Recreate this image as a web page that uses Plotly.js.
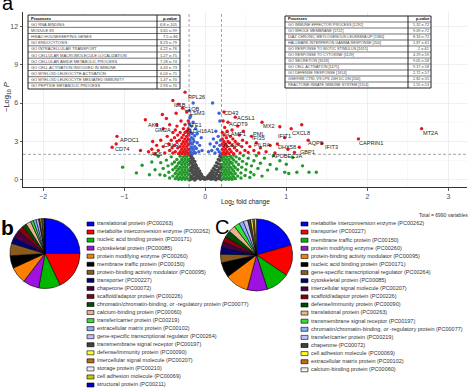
<!DOCTYPE html>
<html><head><meta charset="utf-8">
<script src="https://cdn.plot.ly/plotly-3.0.1.min.js"></script>
<style>html,body{margin:0;padding:0;background:#fff}#chart{width:474px;height:389px}</style>
</head><body><div id="chart"></div>
<script>
// ---------------- DATA ----------------
const grayPts = [
[-0.19,1.95],[-0.18,1.7],[-0.19,1.45],[-0.2,1.2],[-0.18,0.95],[-0.19,0.7],[-0.2,0.45],[-0.18,0.2],[-0.19,0.02],
[-0.17,1.85],[-0.16,1.55],[-0.17,1.3],[-0.16,1.05],[-0.17,0.8],[-0.16,0.55],[-0.17,0.3],[-0.16,0.08],
[-0.15,1.65],[-0.14,1.4],[-0.15,1.15],[-0.14,0.9],[-0.15,0.65],[-0.14,0.4],[-0.15,0.15],
[-0.13,1.45],[-0.12,1.2],[-0.13,0.95],[-0.12,0.7],[-0.13,0.45],[-0.12,0.2],[-0.13,0.0],
[-0.11,1.1],[-0.1,0.85],[-0.11,0.6],[-0.1,0.35],[-0.11,0.1],
[-0.09,0.9],[-0.08,0.65],[-0.09,0.4],[-0.08,0.15],
[-0.07,0.7],[-0.06,0.5],[-0.07,0.25],[-0.06,0.05],
[-0.05,0.45],[-0.04,0.3],[-0.03,0.12],[-0.02,0.2],[-0.01,0.05],
[0.01,0.08],[0.02,0.22],[0.03,0.1],[0.04,0.35],[0.05,0.15],[0.06,0.5],[0.07,0.28],[0.07,0.05],
[0.08,0.7],[0.09,0.45],[0.08,0.18],[0.1,0.9],[0.1,0.6],[0.11,0.32],[0.1,0.08],
[0.12,1.1],[0.12,0.8],[0.13,0.55],[0.12,0.25],[0.13,0.02],
[0.14,1.35],[0.14,1.05],[0.15,0.75],[0.14,0.45],[0.15,0.15],
[0.16,1.6],[0.16,1.25],[0.17,0.95],[0.16,0.65],[0.17,0.35],[0.16,0.1],
[0.18,1.85],[0.18,1.5],[0.19,1.2],[0.18,0.85],[0.19,0.55],[0.18,0.25],[0.19,0.05],
[0.2,1.7],[0.2,1.0],[0.2,0.4],[0.19,1.95]
];
const greenPts = [
[-0.21,0.05],[-0.21,0.4],[-0.21,0.8],[-0.21,1.2],[-0.21,1.6],[-0.21,1.95],
[-0.23,0.2],[-0.23,0.6],[-0.23,1.0],[-0.23,1.4],[-0.23,1.8],
[-0.25,0.05],[-0.25,0.4],[-0.25,0.8],[-0.25,1.2],[-0.25,1.6],[-0.25,1.95],
[-0.27,0.2],[-0.27,0.6],[-0.27,1.0],[-0.27,1.4],[-0.27,1.8],
[-0.29,0.05],[-0.29,0.4],[-0.29,0.8],[-0.29,1.2],[-0.29,1.6],
[-0.31,0.2],[-0.31,0.6],[-0.31,1.0],[-0.31,1.4],[-0.31,1.85],
[-0.33,0.05],[-0.33,0.45],[-0.33,0.85],[-0.33,1.3],
[-0.35,0.25],[-0.35,0.7],[-0.35,1.1],[-0.35,1.6],
[-0.37,0.1],[-0.37,0.5],[-0.37,0.95],[-0.38,1.4],
[-0.4,0.3],[-0.4,0.8],[-0.41,1.25],[-0.42,1.8],
[-0.44,0.15],[-0.45,0.6],[-0.46,1.1],[-0.48,1.55],
[-0.5,0.35],[-0.52,0.9],[-0.55,1.35],[-0.56,0.4],[-0.58,1.85],[-0.62,0.8],[-0.66,1.4],[-0.69,0.4],[-0.78,1.15],[-1.02,1.0],[-0.85,0.55],
[0.21,0.05],[0.21,0.4],[0.21,0.8],[0.21,1.2],[0.21,1.6],[0.21,1.95],
[0.23,0.2],[0.23,0.6],[0.23,1.0],[0.23,1.4],[0.23,1.8],
[0.25,0.05],[0.25,0.4],[0.25,0.8],[0.25,1.2],[0.25,1.6],[0.25,1.95],
[0.27,0.2],[0.27,0.6],[0.27,1.0],[0.27,1.4],[0.27,1.8],
[0.29,0.05],[0.29,0.4],[0.29,0.8],[0.29,1.2],[0.29,1.6],
[0.31,0.2],[0.31,0.6],[0.31,1.0],[0.31,1.4],[0.31,1.85],
[0.33,0.05],[0.33,0.45],[0.33,0.85],[0.33,1.3],[0.33,1.7],
[0.35,0.25],[0.35,0.7],[0.35,1.1],[0.35,1.55],[0.35,1.95],
[0.37,0.1],[0.37,0.5],[0.37,0.95],[0.38,1.4],[0.38,1.8],
[0.4,0.3],[0.4,0.8],[0.41,1.2],[0.42,1.65],
[0.44,0.15],[0.44,0.55],[0.45,1.0],[0.46,1.45],[0.47,1.9],
[0.49,0.35],[0.5,0.8],[0.51,1.25],[0.53,1.7],
[0.55,0.2],[0.56,0.6],[0.57,1.1],[0.6,1.5],[0.6,0.4],[0.63,1.9],[0.65,0.9],[0.68,1.3],[0.7,0.3],
[0.73,1.7],[0.77,0.77],[0.8,1.2],[0.84,1.9],[0.88,0.85],[0.92,1.5],[0.98,0.6],[1.0,1.23],[1.03,0.5],[1.08,1.75],[1.13,0.6],[1.2,1.1],[1.28,0.6],[1.37,0.6]
];
const bluePts = [
[-0.2,2.1],[-0.19,2.4],[-0.2,2.75],[-0.19,3.1],[-0.2,3.5],[-0.19,3.9],[-0.2,4.4],[-0.19,4.85],[-0.2,5.4],
[-0.18,2.2],[-0.17,2.55],[-0.18,2.9],[-0.17,3.3],[-0.18,3.7],[-0.17,4.2],[-0.18,5.0],
[-0.16,2.05],[-0.15,2.4],[-0.16,2.8],[-0.15,3.2],[-0.16,3.6],[-0.15,4.5],[-0.15,6.0],
[-0.14,2.2],[-0.13,2.6],[-0.14,3.0],[-0.13,3.45],[-0.12,4.0],
[-0.12,2.1],[-0.11,2.45],[-0.1,2.9],[-0.1,3.6],
[-0.08,2.2],[-0.07,2.7],[-0.05,3.3],[-0.04,2.3],
[0.04,2.2],[0.06,2.8],[0.08,2.3],[0.09,6.0],[0.1,3.2],[0.11,2.6],[0.12,2.1],[0.13,3.8],[0.14,2.9],[0.15,2.4],[0.16,3.4],[0.17,2.2],[0.18,2.7],[0.19,3.1],[0.18,4.6],[0.19,2.05],[0.17,5.2]
];
const redPts = [
[-0.21,2.05],[-0.21,2.4],[-0.21,2.8],[-0.21,3.2],[-0.21,3.6],[-0.21,4.0],[-0.21,4.6],
[-0.23,2.2],[-0.23,2.6],[-0.23,3.0],[-0.23,3.4],[-0.23,3.8],[-0.23,5.3],
[-0.25,2.05],[-0.25,2.4],[-0.25,2.8],[-0.25,3.2],[-0.25,3.7],[-0.25,4.3],[-0.25,6.85],
[-0.27,2.2],[-0.27,2.6],[-0.27,3.0],[-0.27,3.5],[-0.27,4.0],[-0.28,5.6],
[-0.29,2.05],[-0.29,2.4],[-0.29,2.8],[-0.29,3.3],[-0.3,4.6],
[-0.31,2.2],[-0.31,2.6],[-0.32,3.1],[-0.31,3.7],[-0.33,5.9],
[-0.33,2.05],[-0.34,2.5],[-0.35,3.0],[-0.34,3.5],[-0.35,4.2],
[-0.37,2.2],[-0.38,2.7],[-0.38,3.3],[-0.37,3.9],[-0.36,5.2],
[-0.4,2.1],[-0.41,2.5],[-0.42,3.1],[-0.4,3.7],[-0.4,6.2],
[-0.44,2.3],[-0.45,2.8],[-0.47,3.4],[-0.44,4.3],[-0.48,4.8],
[-0.5,2.1],[-0.52,2.6],[-0.55,3.1],[-0.52,4.0],[-0.53,5.1],
[-0.58,2.3],[-0.6,2.7],[-0.6,4.3],[-0.62,2.05],[-0.66,2.4],[-0.65,3.0],[-0.7,2.2],[-0.74,4.7],[-0.8,2.3],[-1.09,3.4],[-1.15,2.55],[-1.1,2.8],
[0.21,2.05],[0.21,2.4],[0.21,2.8],[0.21,3.2],[0.21,3.7],[0.22,4.6],
[0.23,2.2],[0.23,2.6],[0.23,3.0],[0.23,3.5],[0.24,4.1],[0.23,5.3],
[0.25,2.05],[0.25,2.4],[0.25,2.8],[0.26,3.3],
[0.27,2.2],[0.27,2.6],[0.28,3.0],[0.27,3.8],[0.28,4.5],
[0.29,2.05],[0.3,2.4],[0.3,2.9],[0.31,3.4],
[0.32,2.2],[0.33,2.7],[0.34,3.2],[0.33,3.9],
[0.35,2.05],[0.36,2.5],[0.37,3.0],[0.37,4.9],
[0.39,2.3],[0.4,2.8],[0.42,3.5],[0.4,4.2],
[0.43,2.1],[0.45,2.6],[0.46,3.1],[0.47,3.8],
[0.49,2.3],[0.51,2.9],[0.53,2.15],[0.55,2.6],[0.57,3.4],[0.6,2.3],[0.63,2.9],[0.66,2.1],[0.68,2.5],
[0.7,4.5],[0.75,2.2],[0.8,2.7],[0.86,2.1],[0.89,2.8],[0.92,4.15],[0.98,3.3],[1.02,2.4],[1.06,4.0],[1.1,2.15],[1.16,2.55],[1.19,4.3],[1.27,3.1],[1.44,2.85],[1.89,3.2],[2.67,4.0]
];

const geneLabels = ['RPL26','IL1B','C1QB','LSM3','AK1','ATE1','GM2A','ALDH16A1','APOC1','CALR','CD74','AES',
  'CD43','ACSL1','ACOT9','MX2','SLAMF1','PML','CXCL8','IFIT1','IFI35','ACSL4','PILRA','AQP9','DHX58','IFIT3','GBP1','APOBEC3A','CAPRIN1','MT2A'];
const geneLabelX = [-0.22,-0.40,-0.28,-0.20,-0.72,-0.22,-0.63,-0.25,-1.07,-0.52,-1.13,-0.68,
  0.22,0.38,0.28,0.70,0.22,0.58,1.06,0.89,0.57,0.21,0.59,1.26,0.89,1.46,1.16,0.81,1.89,2.67];
const geneLabelY = [6.46,5.85,5.55,5.2,4.3,4.3,3.9,3.85,3.1,2.7,2.4,2.0,
  5.2,4.85,4.4,4.2,3.6,3.6,3.7,3.4,3.3,2.75,2.7,2.9,2.55,2.55,2.2,1.9,2.9,3.7];

const leftProcesses = ['GO RNA BINDING','MODULE 83','HSIAO HOUSEKEEPING GENES','GO ENDOCYTOSIS','GO INTRACELLULAR TRANSPORT',
  'GO CELLULAR MACROMOLECULE LOCALIZATION','GO CELLULAR AMIDE METABOLIC PROCESS','GO CELL ACTIVATION INVOLVED IN IMMUNE',
  'GO MYELOID LEUKOCYTE ACTIVATION','GO MYELOID LEUKOCYTE MEDIATED IMMUNITY','GO PEPTIDE METABOLIC PROCESS'];
const leftPvalues = ['6.8 e-105','3.65 e-99','7.5 e-86','8.23 e-79','4.22 e-76','1.27 e-75','7.28 e-74','4.43 e-73','6.04 e-71','1.47 e-70','2.93 e-70'];
const rightProcesses = ['GO IMMUNE EFFECTOR PROCESS [1292]','GO WHOLE MEMBRANE [1722]','DIAZ CHRONIC MEYLOGENOUS LEUKEMIA UP [1380]',
  'HALLMARK INTERFERON GAMMA RESPONSE [200]','GO RESPONSE TO BIOTIC STIMULUS [1615]','GO RESPONSE TO CYTOKINE [1129]',
  'GO SECRETION [1618]','GO CELL ACTIVATION [1475]','GO DEFENSE RESPONSE [1814]','GSE9988 CTRL VS LPS 24H DC DN [200]',
  'REACTOME INNATE IMMUNE SYSTEM [1114]'];
const rightPvalues = ['5.32 e-72','9.09 e-72','8.33 e-72','1.87 e-61','2 e-61','4.29 e-59','9.05 e-58','9.17 e-58','2.72 e-57','2.82 e-55','1.55 e-53'];

const pieBCategories = ['translational protein (PC00263)','metabolite interconversion enzyme (PC00262)','nucleic acid binding protein (PC00171)',
  'cytoskeletal protein (PC00085)','protein modifying enzyme (PC00260)','membrane traffic protein (PC00150)',
  'protein-binding activity modulator (PC00095)','transporter (PC00227)','chaperone (PC00072)','scaffold/adaptor protein (PC00226)',
  'chromatin/chromatin-binding, or -regulatory protein (PC00077)','calcium-binding protein (PC00060)','transfer/carrier protein (PC00219)',
  'extracellular matrix protein (PC00102)','gene-specific transcriptional regulator (PC00264)','transmembrane signal receptor (PC00197)',
  'defense/immunity protein (PC00090)','intercellular signal molecule (PC00207)','storage protein (PC00210)',
  'cell adhesion molecule (PC00069)','structural protein (PC00211)'];
const pieBValues = [25,18,10,7.5,7.8,5.8,5.8,2.9,3.7,2.6,2,2.4,1.3,1.3,1.2,0.6,0.7,0.5,0.5,0.3,0.3];
const pieCCategories = ['metabolite interconversion enzyme (PC00262)','transporter (PC00227)','membrane traffic protein (PC00150)',
  'protein modifying enzyme (PC00260)','protein-binding activity modulator (PC00095)','nucleic acid binding protein (PC00171)',
  'gene-specific transcriptional regulator (PC00264)','cytoskeletal protein (PC00085)','intercellular signal molecule (PC00207)',
  'scaffold/adaptor protein (PC00226)','defense/immunity protein (PC00090)','translational protein (PC00263)',
  'transmembrane signal receptor (PC00197)','chromatin/chromatin-binding, or -regulatory protein (PC00077)',
  'transfer/carrier protein (PC00219)','chaperone (PC00072)','cell adhesion molecule (PC00069)',
  'extracellular matrix protein (PC00102)','calcium-binding protein (PC00060)'];
const pieCValues = [20.4,13.8,10.6,9,10.5,6.7,3.9,3,2.5,2.5,3,3,2.5,2,2,1.3,1,0.8,0.8];
const rankColors = ['#0000ff','#ff0000','#00b800','#a010e0','#ff8000','#000000','#8b5a1e','#000080','#4a0040','#8b0010',
  '#004d00','#e8b48c','#33e033','#88b0ff','#c0c0ff','#404040','#ffff20','#c06a1a','#f0f0f0','#c8c800','#0000cc'];

// ---------------- BUILD ----------------
const W = 474, H = 389;
const px = v => v / W;
const py = v => 1 - v / H;
const FONT = 'Liberation Sans, Arial, sans-serif';

function ptsTrace(pts, color) {
  return {type:'scatter', mode:'markers', x:pts.map(p=>p[0]), y:pts.map(p=>p[1]), xaxis:'x', yaxis:'y',
    marker:{color:color, size:3.4}, hoverinfo:'skip', showlegend:false};
}
const traces = [ptsTrace(grayPts,'#4a4a4a'), ptsTrace(greenPts,'#22992a'), ptsTrace(bluePts,'#3b62d8'), ptsTrace(redPts,'#e8141c')];

function pieTrace(cats, vals, x0, x1, y0, y1) {
  return {type:'pie', labels:cats, values:vals, sort:false, direction:'clockwise', rotation:0, textinfo:'none',
    marker:{colors:rankColors.slice(0,cats.length), line:{color:'#000', width:0.6}},
    domain:{x:[px(x0),px(x1)], y:[py(y1),py(y0)]}, showlegend:false, hoverinfo:'skip'};
}
traces.push(pieTrace(pieBCategories, pieBValues, 10, 80, 218, 289));
traces.push(pieTrace(pieCCategories, pieCValues, 220.5, 292.5, 219, 291));

function legendTraces(cats, x0, y0, dy) {
  const ys = cats.map((_, i) => y0 + dy * i);
  return [
    {type:'bar', orientation:'h', xaxis:'x2', yaxis:'y2', y:ys, x:cats.map(()=>7), base:x0, width:4,
      marker:{color:rankColors.slice(0,cats.length), line:{color:'#000', width:0.6}}, hoverinfo:'skip', showlegend:false},
    {type:'scatter', mode:'text', xaxis:'x2', yaxis:'y2', x:cats.map(()=>x0+10), y:ys, text:cats,
      textposition:'middle right', textfont:{size:5.5, color:'#333', family:FONT}, hoverinfo:'skip', showlegend:false, cliponaxis:false}
  ];
}
traces.push(...legendTraces(pieBCategories, 87, 224, 8.05));
traces.push(...legendTraces(pieCCategories, 301, 224, 8.1));

const shapes = [];
const annotations = [];

// threshold lines
[-0.2, 0.2].forEach(v => shapes.push({type:'line', xref:'x', yref:'y domain', x0:v, x1:v, y0:0, y1:1, layer:'below',
  line:{color:'#8a8a8a', width:0.8, dash:'3px,2px'}}));
shapes.push({type:'line', xref:'x domain', yref:'y', x0:0, x1:1, y0:2, y1:2, layer:'below',
  line:{color:'#8a8a8a', width:0.8, dash:'3px,2px'}});

// gene labels
geneLabels.forEach((t, i) => annotations.push({text:t, x:geneLabelX[i], y:geneLabelY[i], xref:'x', yref:'y',
  xanchor:'left', yanchor:'middle', showarrow:false, borderpad:0, font:{size:5.6, color:'#222', family:FONT}}));

// tables
function addTable(procs, pvals, left, right, split, top, bottom, fs) {
  const n = procs.length + 1;
  const rh = (bottom - top) / n;
  shapes.push({type:'rect', xref:'paper', yref:'paper', x0:px(left), x1:px(right), y0:py(bottom), y1:py(top),
    fillcolor:'#ffffff', line:{color:'#222', width:1}});
  for (let i = 1; i < n; i++) shapes.push({type:'line', xref:'paper', yref:'paper', x0:px(left), x1:px(right),
    y0:py(top + rh*i), y1:py(top + rh*i), line:{color:'#333', width:0.7}});
  shapes.push({type:'line', xref:'paper', yref:'paper', x0:px(split), x1:px(split), y0:py(bottom), y1:py(top),
    line:{color:'#222', width:1}});
  const rowsL = ['<b>Processes</b>'].concat(procs);
  const rowsR = ['<b>p-value</b>'].concat(pvals);
  rowsL.forEach((t, i) => {
    const yc = py(top + rh*(i+0.5));
    annotations.push({text:t, x:px(left+2), y:yc, xref:'paper', yref:'paper', xanchor:'left', yanchor:'middle',
      showarrow:false, borderpad:0, font:{size:fs, color:i ? '#444' : '#000', family:FONT}});
    annotations.push({text:rowsR[i], x:px(right-1.5), y:yc, xref:'paper', yref:'paper', xanchor:'right', yanchor:'middle',
      showarrow:false, borderpad:0, font:{size:fs, color:i ? '#444' : '#000', family:FONT}});
  });
}
addTable(leftProcesses, leftPvalues, 28, 180, 157, 15, 89, 4);
addTable(rightProcesses, rightPvalues, 285, 431, 408, 16, 88, 3.8);

// axis titles & misc text
annotations.push({text:'Log<sub>2</sub> fold change', x:px(245), y:py(202), xref:'paper', yref:'paper',
  xanchor:'center', yanchor:'middle', showarrow:false, font:{size:6.5, color:'#222', family:FONT}});
annotations.push({text:'\u2212Log<sub>10</sub> <i>P</i>', x:px(7), y:py(97), xref:'paper', yref:'paper', textangle:-90,
  xanchor:'center', yanchor:'middle', showarrow:false, font:{size:7.5, color:'#222', family:FONT}});
annotations.push({text:'Total = 6990 variables', x:px(470), y:py(215), xref:'paper', yref:'paper',
  xanchor:'right', yanchor:'middle', showarrow:false, font:{size:5, color:'#333', family:FONT}});
annotations.push({text:'a', x:px(1), y:py(-9), xref:'paper', yref:'paper', xanchor:'left', yanchor:'top',
  showarrow:false, borderpad:0, font:{size:20, color:'#000', family:FONT}});
annotations.push({text:'<b>b</b>', x:px(0), y:py(215), xref:'paper', yref:'paper', xanchor:'left', yanchor:'top',
  showarrow:false, borderpad:0, font:{size:21, color:'#000', family:FONT}});
annotations.push({text:'C', x:px(214), y:py(215), xref:'paper', yref:'paper', xanchor:'left', yanchor:'top',
  showarrow:false, borderpad:0, font:{size:20, color:'#000', family:FONT}});

const layout = {
  width:W, height:H, margin:{l:0, r:0, t:0, b:0}, paper_bgcolor:'#fff', plot_bgcolor:'rgba(0,0,0,0)',
  font:{family:FONT}, showlegend:false, barmode:'overlay',
  xaxis:{domain:[px(23), px(467)], range:[-2.25, 3.23], tick0:0, dtick:1, ticks:'outside', ticklen:2.5, tickwidth:0.8,
    tickcolor:'#333', showline:true, linecolor:'#333', linewidth:1, zeroline:false, gridcolor:'#e4e4e4', gridwidth:0.6,
    minor:{dtick:0.5, showgrid:true, gridcolor:'#f2f2f2', gridwidth:0.5}, tickfont:{size:7, color:'#4d4d4d'},
    automargin:false, anchor:'y'},
  yaxis:{domain:[py(187), py(12)], range:[-0.55, 13.1], tick0:0, dtick:3, ticks:'outside', ticklen:2.5, tickwidth:0.8,
    tickcolor:'#333', showline:true, linecolor:'#333', linewidth:1, zeroline:false, gridcolor:'#e4e4e4', gridwidth:0.6,
    minor:{dtick:1.5, showgrid:true, gridcolor:'#f2f2f2', gridwidth:0.5}, tickfont:{size:7, color:'#4d4d4d'},
    automargin:false, anchor:'x'},
  xaxis2:{domain:[0,1], range:[0,W], visible:false, anchor:'y2', fixedrange:true},
  yaxis2:{domain:[0,1], range:[H,0], visible:false, anchor:'x2', fixedrange:true},
  shapes:shapes, annotations:annotations
};
Plotly.newPlot('chart', traces, layout, {staticPlot:true, displayModeBar:false});
</script></body></html>
